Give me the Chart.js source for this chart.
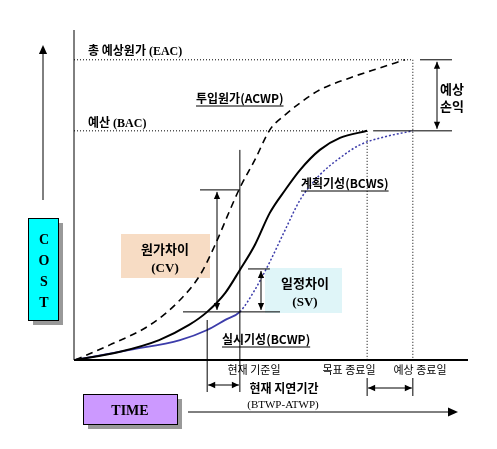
<!DOCTYPE html>
<html>
<head>
<meta charset="utf-8">
<script src="https://cdn.jsdelivr.net/npm/chart.js@4"></script>
<style>
  body { margin: 0; background: #fff; }
  #wrap { width: 497px; height: 449px; }
</style>
</head>
<body>
<div id="wrap"><canvas id="evm"></canvas></div>
<script>
// values in chart units: time 0..100, cost with BAC = 100, EAC = 131
const BAC = 100;
const EAC = 131;
const statusDate = 42.1;   // 현재 기준일
const earnedDate = 33.8;   // 지연 시작
const targetEnd = 74.4;    // 목표 종료일
const forecastEnd = 86;    // 예상 종료일

const bcws = [[0.3,0],[11.4,3.5],[21.6,8.7],[29.2,15.3],[33.8,21],[38.4,29.3],[42.1,39.3],[45.9,50.2],[49.7,64.2],[53.6,74.2],[57.4,83],[62.4,91.7],[67.5,96.9],[74.4,100]];
const acwp = [[0.3,0],[9.1,6.6],[19.3,15.3],[26.9,26.2],[32,37.1],[35.8,50.2],[39.6,65.5],[42.1,75.1],[45.9,87.3],[49.7,100.4],[53.6,107],[57.4,112.2],[62.4,117.9],[70,123.1],[77.7,127.5],[84,131]];
const bcwp = [[0.3,0],[14.2,4.4],[26.9,8.7],[33.8,13.1],[38.4,17.5],[42.1,21],[45.9,30.6],[49.7,42.8],[53.6,56.8],[57.4,69.9],[62.4,80.8],[67.5,88.2],[72.6,93.9],[78.9,97.4],[86,100]];

const toPts = arr => arr.map(p => ({ x: p[0], y: p[1] }));

function arrowHead(ctx, x, y, dir, size) {
    ctx.save();
    ctx.translate(x, y);
    ctx.rotate(dir);
    ctx.beginPath();
    ctx.moveTo(0, 0);
    ctx.lineTo(-size, -size * 0.45);
    ctx.lineTo(-size, size * 0.45);
    ctx.closePath();
    ctx.fill();
    ctx.restore();
}

function line(ctx, x1, y1, x2, y2, dash) {
    ctx.save();
    ctx.setLineDash(dash || []);
    ctx.beginPath();
    ctx.moveTo(x1, y1);
    ctx.lineTo(x2, y2);
    ctx.stroke();
    ctx.restore();
}

function dblArrowV(ctx, x, y1, y2) {
    line(ctx, x, y1, x, y2);
    arrowHead(ctx, x, y1, -Math.PI / 2, 7);
    arrowHead(ctx, x, y2, Math.PI / 2, 7);
}

function dblArrowH(ctx, x1, x2, y) {
    line(ctx, x1, y, x2, y);
    arrowHead(ctx, x1, y, Math.PI, 7);
    arrowHead(ctx, x2, y, 0, 7);
}

function underlined(ctx, text, x, y) {
    ctx.fillText(text, x, y);
    const w = ctx.measureText(text).width;
    line(ctx, x, y + 3, x + w, y + 3);
}

// korean part then serif part right after it
function mixed(ctx, kor, lat, x, y) {
    ctx.font = 'bold 12px "Noto Sans CJK KR"';
    ctx.fillText(kor, x, y);
    const w = ctx.measureText(kor).width;
    ctx.font = 'bold 12px "Liberation Serif"';
    ctx.fillText(lat, x + w + 3, y);
}

const decor = {
    id: 'decor',
    beforeDatasetsDraw(chart) {
        const ctx = chart.ctx;
        const xs = chart.scales.x, ys = chart.scales.y;
        const X = v => xs.getPixelForValue(v);
        const Y = v => ys.getPixelForValue(v);
        const a = chart.chartArea;
        ctx.save();
        ctx.strokeStyle = '#000';
        ctx.lineWidth = 1;
        line(ctx, a.left, Y(EAC), X(forecastEnd), Y(EAC), [1, 2]);
        line(ctx, X(forecastEnd), Y(EAC), X(forecastEnd), a.bottom, [1, 2]);
        line(ctx, a.left, Y(BAC), X(targetEnd), Y(BAC), [1, 2]);
        line(ctx, X(targetEnd), Y(BAC), X(targetEnd), a.bottom, [1, 2]);
        ctx.fillStyle = '#f7dcc4';
        ctx.fillRect(121, 234, 89, 44);
        ctx.fillStyle = '#dff5f8';
        ctx.fillRect(265, 268, 77, 45);
        ctx.restore();
    },
    afterDatasetsDraw(chart) {
        const ctx = chart.ctx;
        const xs = chart.scales.x, ys = chart.scales.y;
        const X = v => xs.getPixelForValue(v);
        const Y = v => ys.getPixelForValue(v);
        const a = chart.chartArea;
        ctx.save();
        ctx.strokeStyle = '#000';
        ctx.fillStyle = '#000';
        ctx.lineWidth = 1;

        // axes
        line(ctx, a.left, a.top, a.left, a.bottom);
        ctx.lineWidth = 2;
        line(ctx, a.left, a.bottom, a.right, a.bottom);
        ctx.lineWidth = 1;

        // 예상 손익
        line(ctx, 420, Y(EAC), 452, Y(EAC));
        line(ctx, X(targetEnd) + 6, Y(BAC), 452, Y(BAC));
        dblArrowV(ctx, 437, Y(EAC) + 2, Y(BAC) - 2);

        // CV / SV markers
        const yAC = Y(acwp[7][1]);
        const yEV = Y(bcwp[5][1]);
        const yPV = Y(bcws[6][1]);
        line(ctx, X(statusDate), yAC - 38, X(statusDate), a.bottom);
        line(ctx, 200, yAC + 2, X(statusDate), yAC + 2);
        line(ctx, 183, yEV, 280, yEV);
        line(ctx, 248, yPV - 1, X(statusDate) + 30, yPV - 1);
        dblArrowV(ctx, 217, yAC + 4, yEV - 2);
        dblArrowV(ctx, 261, yPV + 1, yEV - 2);

        // delay markers below axis
        line(ctx, X(earnedDate), 320, X(earnedDate), 392);
        line(ctx, X(statusDate), a.bottom, X(statusDate), 392);
        dblArrowH(ctx, X(earnedDate) + 1, X(statusDate) - 1, 385);
        line(ctx, X(targetEnd), 378, X(targetEnd), 396);
        line(ctx, X(forecastEnd), 378, X(forecastEnd), 396);
        dblArrowH(ctx, X(targetEnd) + 1, X(forecastEnd) - 1, 388);

        // texts
        ctx.textBaseline = 'alphabetic';
        mixed(ctx, '총 예상원가', '(EAC)', 88, 55);
        mixed(ctx, '예산', '(BAC)', 88, 127);

        ctx.font = 'bold 13px "Noto Sans CJK KR"';
        ctx.fillText('예상', 440, 94);
        ctx.fillText('손익', 440, 111);

        ctx.font = 'bold 12px "Noto Sans CJK KR"';
        underlined(ctx, '투입원가(ACWP)', 196, 103);
        underlined(ctx, '계획기성(BCWS)', 301, 188);
        underlined(ctx, '실시기성(BCWP)', 222, 344);

        ctx.textAlign = 'center';
        ctx.font = 'bold 13px "Noto Sans CJK KR"';
        ctx.fillText('원가차이', 165, 254);
        ctx.fillText('일정차이', 305, 288);
        ctx.font = 'bold 13px "Liberation Serif"';
        ctx.fillText('(CV)', 165, 272);
        ctx.fillText('(SV)', 305, 306);

        ctx.font = '11px "Noto Sans CJK KR"';
        ctx.fillText('현재 기준일', 254, 374);
        ctx.fillText('목표 종료일', 349, 374);
        ctx.fillText('예상 종료일', 420, 374);
        ctx.font = 'bold 12px "Noto Sans CJK KR"';
        ctx.fillText('현재 지연기간', 284, 393);
        ctx.font = '11px "Liberation Serif"';
        ctx.fillText('(BTWP-ATWP)', 283, 408);

        // COST box
        ctx.fillStyle = '#999';
        ctx.fillRect(33, 223, 30, 102);
        ctx.fillStyle = '#00ffff';
        ctx.fillRect(28, 218, 30, 102);
        ctx.strokeRect(28.5, 218.5, 30, 102);
        ctx.fillStyle = '#000';
        ctx.font = 'bold 14px "Liberation Serif"';
        ['C', 'O', 'S', 'T'].forEach((c, i) => ctx.fillText(c, 44, 244 + i * 21));
        line(ctx, 43, 200, 43, 50);
        arrowHead(ctx, 43, 45, -Math.PI / 2, 9);

        // TIME box
        ctx.fillStyle = '#999';
        ctx.fillRect(88, 399, 94, 30);
        ctx.fillStyle = '#cc99ff';
        ctx.fillRect(83, 394, 94, 30);
        ctx.strokeRect(83.5, 394.5, 94, 30);
        ctx.fillStyle = '#000';
        ctx.font = 'bold 14px "Liberation Serif"';
        ctx.fillText('TIME', 130, 415);
        line(ctx, 188, 412, 450, 412);
        arrowHead(ctx, 458, 412, 0, 10);
        ctx.restore();
    }
};

new Chart(document.getElementById('evm'), {
    type: 'line',
    data: {
        datasets: [
            { label: 'BCWS', data: toPts(bcws), borderColor: '#000', borderWidth: 2 },
            { label: 'ACWP', data: toPts(acwp), borderColor: '#000', borderWidth: 1.6, borderDash: [7, 5] },
            {
                label: 'BCWP', data: toPts(bcwp), borderColor: '#3c3caa', borderWidth: 1.8,
                segment: {
                    borderDash: c => c.p0.parsed.x >= statusDate ? [2, 2] : undefined,
                    borderWidth: c => c.p0.parsed.x >= statusDate ? 1.5 : 1.8
                }
            }
        ]
    },
    options: {
        responsive: true,
        maintainAspectRatio: false,
        animation: false,
        layout: { padding: { left: 74, top: 30, right: 29, bottom: 89 } },
        elements: { point: { radius: 0 }, line: { tension: 0.4, cubicInterpolationMode: 'monotone' } },
        scales: {
            x: { type: 'linear', min: 0, max: 100, display: false },
            y: { min: 0, max: 144, display: false }
        },
        plugins: { legend: { display: false }, tooltip: { enabled: false } }
    },
    plugins: [decor]
});
</script>
</body>
</html>
